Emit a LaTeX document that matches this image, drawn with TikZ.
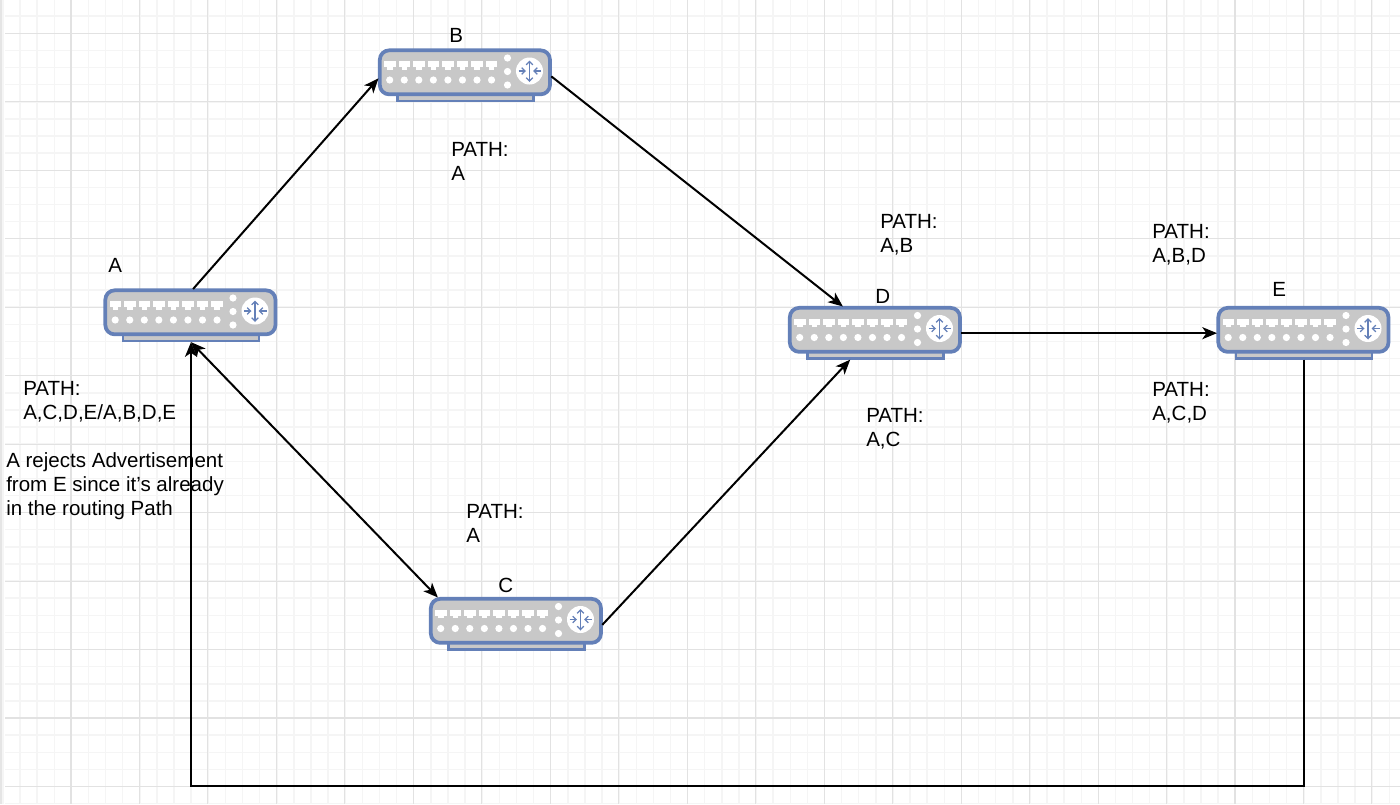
\documentclass[tikz,border=0pt]{standalone}
\usepackage{fontspec}
\setmainfont{Liberation Sans}
\usetikzlibrary{arrows.meta}
\definecolor{rblue}{HTML}{6480B8}
\definecolor{rgrey}{HTML}{C8C8C8}
\definecolor{gminor}{HTML}{F5F5F5}
\definecolor{gmajor}{HTML}{E2E2E2}
\tikzset{
  rbody/.style={draw=rblue,fill=rgrey,line width=2.8pt,rounded corners=7pt,minimum width=127.6pt,minimum height=33pt,inner sep=0pt,anchor=north west,outer sep=1pt},
  rbase/.style={draw=rblue,fill=rgrey,line width=1.9pt,minimum width=102pt,minimum height=5pt,inner sep=0pt,outer sep=1pt},
  rlabel/.style={font=\fontsize{15.4pt}{18.4pt}\selectfont,align=left,anchor=north west,inner sep=0pt},
  conn/.style={draw=black,line width=1.5pt,-{Stealth[length=11pt,width=9pt,inset=3pt]}},
  connb/.style={draw=black,line width=1.5pt,{Stealth[length=11pt,width=9pt,inset=3pt]}-{Stealth[length=11pt,width=9pt,inset=3pt]}},
  rarrow/.style={draw=rblue,line width=0.9pt,-{Straight Barb[length=2.6pt,width=5pt]}},
}
\newcommand{\routerbox}[3]{%
  \begin{scope}[shift={(#2,#3)}]
    \node[rbase] (#1base) at (87,48.5) {};
    \node[rbody] (#1) at (0,0) {};
    \foreach \i in {0,...,7}{
      \fill[white] (5.5+14.55*\i,12) rectangle (17+14.55*\i,18);
      \fill[white] (8.5+14.55*\i,17.5) rectangle (14+14.55*\i,20.5);
      \fill[white] (11.2+14.55*\i,31) circle (3.6);
    }
    \foreach \j in {9,22.5,36}{\fill[white] (129,\j) circle (3.6);}
    \fill[white] (151,22) circle (13.5);
    \draw[rarrow] (151,22) -- (151,11.5);
    \draw[rarrow] (151,22) -- (151,33);
    \draw[rarrow] (140,22) -- (147.5,22);
    \draw[rarrow] (162.5,22) -- (154.5,22);
  \end{scope}}
\begin{document}
\begin{tikzpicture}[x=0.75pt,y=-0.75pt]
\useasboundingbox (0,0) rectangle (1400,804);
\fill[white] (0,0) rectangle (1400,804);
\fill[gray!20] (0,0) rectangle (3,804);
\foreach \k in {0,...,81}{
  \pgfmathsetmacro\xx{2.9+17.117*\k}
  \draw[gminor,line width=1.1pt] (\xx,0) -- (\xx,804);
}
\foreach \k in {0,...,47}{
  \pgfmathsetmacro\yy{16.2+17.117*\k}
  \draw[gminor,line width=1.1pt] (5,\yy) -- (1400,\yy);
}
\foreach \k in {0,...,19}{
  \pgfmathsetmacro\xx{71+68.47*\k}
  \draw[gmajor,line width=0.8pt] (\xx,0) -- (\xx,804);
}
\foreach \k in {0,...,11}{
  \pgfmathsetmacro\yy{33.3+68.47*\k}
  \draw[gmajor,line width=0.8pt] (5,\yy) -- (1400,\yy);
}
\routerbox{A}{104}{289}
\routerbox{B}{378.5}{49}
\routerbox{C}{429.5}{597.5}
\routerbox{D}{788.5}{306.5}
\routerbox{E}{1217}{306.5}
\draw[conn] ([xshift=2pt]A.north) -- ([yshift=-4.5pt]B.west);
\draw[conn] ([yshift=-3pt]B.east) -- ([xshift=-24pt]D.north);
\draw[connb] (Abase.south) -- ([xshift=-58.5pt]C.north);
\draw[conn] ([yshift=-3pt]C.east) -- ([xshift=-19pt]Dbase.south);
\draw[conn] ([yshift=-2.5pt]D.east) -- ([yshift=-2.5pt]E.west);
\coordinate (level) at (700,786);
\draw[conn,line join=miter] (Ebase.south) -- (Ebase.south |- level) -- (Abase.south |- level) -- (Abase.south);
\node[rlabel] (la) at (108,258) {A};
\node[rlabel] (lb) at (449,28) {B};
\node[rlabel] (lc) at (498,578) {C};
\node[rlabel] (ld) at (875,289) {D};
\node[rlabel] (le) at (1272,282) {E};
\node[rlabel] (p1) at (451,142) {PATH:\\A};
\node[rlabel] (p2) at (880,214) {PATH:\\A,B};
\node[rlabel] (p3) at (1152,224) {PATH:\\A,B,D};
\node[rlabel] (p4) at (1152,382) {PATH:\\A,C,D};
\node[rlabel] (p5) at (866,408) {PATH:\\A,C};
\node[rlabel] (p6) at (466,504) {PATH:\\A};
\node[rlabel] (p7) at (23,381) {PATH:\\A,C,D,E/A,B,D,E};
\node[rlabel,font=\fontsize{15.4pt}{18pt}\selectfont] (n) at (6,452) {A rejects Advertisement\\from E since it's already\\in the routing Path};
\end{tikzpicture}
\end{document}
